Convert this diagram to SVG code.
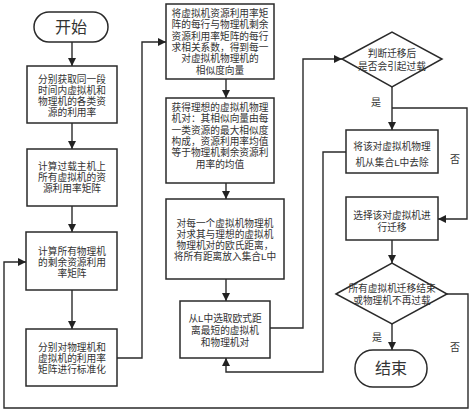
<svg xmlns="http://www.w3.org/2000/svg" width="474" height="413" viewBox="0 0 474 413">
<defs>
<marker id="ah" viewBox="0 0 10 10" refX="10" refY="5" markerWidth="8" markerHeight="8" markerUnits="userSpaceOnUse" orient="auto">
<path d="M0,0 L10,5 L0,10 Z" fill="#222"/>
</marker>
<style>
.box{fill:#fff;stroke:#2a2a2a;stroke-width:1.5}
.t{font-family:"Liberation Sans","Noto Sans CJK SC",sans-serif;font-size:9.7px;fill:#333;text-anchor:middle;dominant-baseline:central}
.big{font-size:16px}
.lbl{font-family:"Liberation Sans","Noto Sans CJK SC",sans-serif;font-size:10px;fill:#333;text-anchor:middle;dominant-baseline:central}
.c{fill:none;stroke:#2a2a2a;stroke-width:1.4;marker-end:url(#ah)}
</style>
</defs>
<rect width="474" height="413" fill="#fff"/>
<g id="connectors">
<path class="c" d="M72,42 V66"/>
<path class="c" d="M72,123 V149"/>
<path class="c" d="M72,206 V232"/>
<path class="c" d="M72,290 V329"/>
<path class="c" d="M117,358 H142 V42 H166"/>
<path class="c" d="M226,79 V98"/>
<path class="c" d="M226,183 V199"/>
<path class="c" d="M226,279 V301"/>
<path class="c" d="M270,328 H303 V59 H342"/>
<path class="c" d="M392,87 V130"/>
<path class="c" d="M392,108 H467 V219 H438"/>
<path class="c" d="M346,152 H323 V372 H226 V358"/>
<path class="c" d="M392,240 V263"/>
<path class="c" d="M392,324 V350"/>
<path class="c" d="M447,294 H468 V408 H4 V262 H26"/>
<text class="lbl" x="376" y="102">是</text>
<text class="lbl" x="455" y="159">否</text>
<text class="lbl" x="377" y="337">是</text>
<text class="lbl" x="455" y="347">否</text>
</g>
<g id="start">
<rect class="box" x="34" y="12" width="74" height="30" rx="15"/>
<text class="t big" x="71" y="27">开始</text>
</g>
<g id="box1">
<rect class="box" x="27" y="66" width="90" height="57"/>
<text class="t" x="72" y="79">分别获取同一段</text>
<text class="t" x="72" y="90.3">时间内虚拟机和</text>
<text class="t" x="72" y="101.6">物理机的各类资</text>
<text class="t" x="72" y="112.9">源的利用率</text>
</g>
<g id="box2">
<rect class="box" x="27" y="149" width="90" height="57"/>
<text class="t" x="72" y="166">计算过载主机上</text>
<text class="t" x="72" y="177.3">所有虚拟机的资</text>
<text class="t" x="72" y="188.6">源利用率矩阵</text>
</g>
<g id="box3">
<rect class="box" x="26" y="232" width="91" height="58"/>
<text class="t" x="72" y="251">计算所有物理机</text>
<text class="t" x="72" y="262.3">的剩余资源利用</text>
<text class="t" x="72" y="273.6">率矩阵</text>
</g>
<g id="box4">
<rect class="box" x="26" y="329" width="91" height="57"/>
<text class="t" x="72" y="347">分别对物理机和</text>
<text class="t" x="72" y="358.3">虚拟机的利用率</text>
<text class="t" x="72" y="369.6">矩阵进行标准化</text>
</g>
<g id="box5">
<rect class="box" x="166" y="4" width="108" height="75"/>
<text class="t" x="220" y="13.5">将虚拟机资源利用率矩</text>
<text class="t" x="220" y="24.8">阵的每行与物理机剩余</text>
<text class="t" x="220" y="36.1">资源利用率矩阵的每行</text>
<text class="t" x="220" y="47.4">求相关系数，得到每一</text>
<text class="t" x="220" y="58.7">对虚拟机物理机的</text>
<text class="t" x="220" y="70">相似度向量</text>
</g>
<g id="box6">
<rect class="box" x="166" y="98" width="108" height="85"/>
<text class="t" x="220" y="107.5">获得理想的虚拟机物理</text>
<text class="t" x="220" y="118.8">机对：其相似向量由每</text>
<text class="t" x="220" y="130.1">一类资源的最大相似度</text>
<text class="t" x="220" y="141.4">构成，资源利用率均值</text>
<text class="t" x="220" y="152.7">等于物理机剩余资源利</text>
<text class="t" x="220" y="164">用率的均值</text>
</g>
<g id="box7">
<rect class="box" x="166" y="199" width="118" height="80"/>
<text class="t" x="225" y="223">对每一个虚拟机物理机</text>
<text class="t" x="225" y="234.3">对求其与理想的虚拟机</text>
<text class="t" x="225" y="245.6">物理机对的欧氏距离，</text>
<text class="t" x="225" y="256.9">将所有距离放入集合L中</text>
</g>
<g id="box8">
<rect class="box" x="180" y="301" width="90" height="57"/>
<text class="t" x="225" y="318.5">从L中选取欧式距</text>
<text class="t" x="225" y="330.5">离最短的虚拟机</text>
<text class="t" x="225" y="342.5">和物理机对</text>
</g>
<g id="diamond1">
<polygon class="box" points="342,59 392,32 442,59 392,87"/>
<text class="t" x="392" y="53">判断迁移后</text>
<text class="t" x="392" y="66">是否会引起过载</text>
</g>
<g id="box9">
<rect class="box" x="346" y="130" width="92" height="43"/>
<text class="t" x="392" y="146.5">将该对虚拟机物理</text>
<text class="t" x="392" y="162">机从集合L中去除</text>
</g>
<g id="box10">
<rect class="box" x="346" y="197" width="92" height="43"/>
<text class="t" x="392" y="215">选择该对虚拟机进</text>
<text class="t" x="392" y="227">行迁移</text>
</g>
<g id="diamond2">
<polygon class="box" points="336,294 392,263 447,294 392,324"/>
<text class="t" x="392" y="288">所有虚拟机迁移结束</text>
<text class="t" x="392" y="300">或物理机不再过载</text>
</g>
<g id="end">
<rect class="box" x="355" y="350" width="72" height="37" rx="18"/>
<text class="t big" x="391" y="368.5">结束</text>
</g>
</svg>
